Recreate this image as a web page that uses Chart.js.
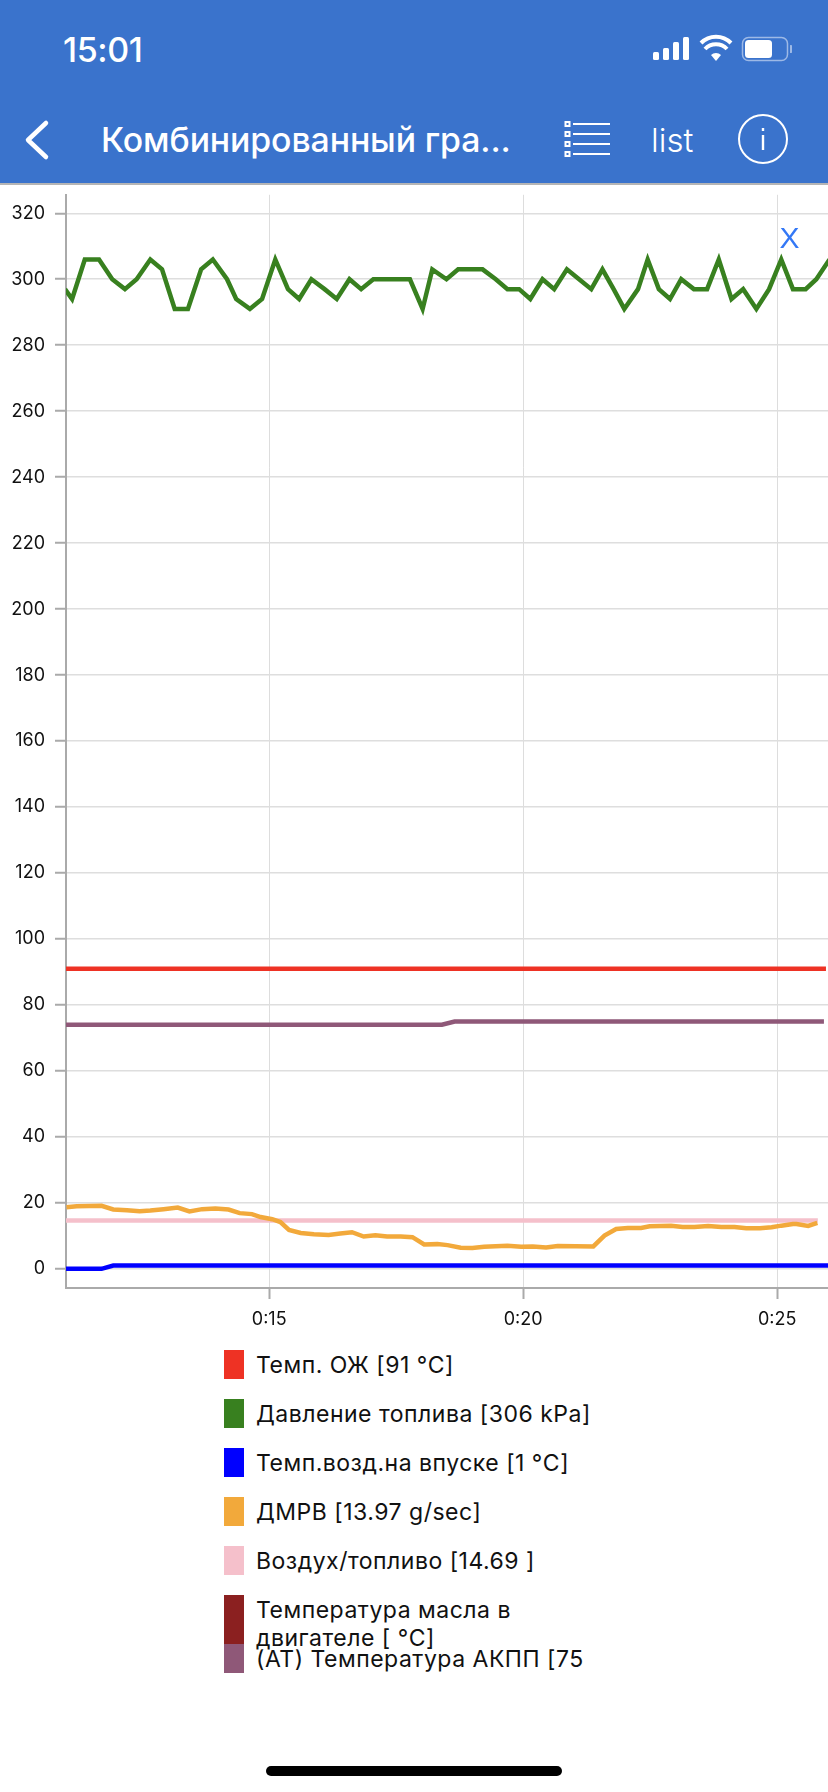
<!DOCTYPE html>
<html lang="ru">
<head>
<meta charset="utf-8">
<title>Комбинированный график</title>
<script src="https://cdn.jsdelivr.net/npm/chart.js@4/dist/chart.umd.js"></script>
<style>
  html, body { margin: 0; padding: 0; background: #fff; }
  body { width: 828px; height: 1792px; position: relative; overflow: hidden; font-family: Inter, "Liberation Sans", sans-serif; color: #111; }
  #header { position: absolute; left: 0; top: 0; width: 828px; height: 183px; background: #3a73cc; border-bottom: 2px solid #b5b5b5; color: #fff; }
  #header div, #header svg { position: absolute; }
  #time { left: 63px; top: 31px; font-size: 34px; font-weight: 500; line-height: 38px; letter-spacing: -0.4px; }
  #title { left: 101px; top: 120px; font-size: 33.8px; font-weight: 500; line-height: 40px; white-space: nowrap; letter-spacing: -0.1px; }
  #listText { left: 651px; top: 120px; font-size: 33px; font-weight: 300; line-height: 40px; }
  #chart { position: absolute; left: 0; top: 174px; }
  #legend { position: absolute; left: 224px; top: 1350px; width: 380px; }
  .row { display: flex; height: 49px; font-size: 23px; line-height: 28px; position: relative; }
  .swatch { width: 20px; height: 29px; flex: none; }
  .text { margin-left: 12px; width: 350px; height: 29px; overflow: hidden; padding-top: 1px; letter-spacing: 0.5px; }
  .row:nth-child(6) .swatch { height: 49px; }
  .row:nth-child(6) .text { height: auto; overflow: visible; }
  #homeBar { position: absolute; left: 266px; top: 1766px; width: 296px; height: 10px; border-radius: 5px; background: #000; }
</style>
</head>
<body>
<div id="header">
  <div id="time">15:01</div>
  <svg style="left:650px;top:34px" width="142" height="30" viewBox="0 0 142 30">
    <g fill="#fff">
      <rect x="3" y="18" width="6" height="8" rx="1.5"/>
      <rect x="13" y="14" width="6" height="12" rx="1.5"/>
      <rect x="23" y="8" width="6" height="18" rx="1.5"/>
      <rect x="33" y="3" width="6" height="23" rx="1.5"/>
      <path d="M66 27l-5-6a7 7 0 0 1 10 0z"/>
    </g>
    <g fill="none" stroke="#fff" stroke-width="4">
      <path d="M55 15a15 15 0 0 1 22 0"/>
      <path d="M51 9a21 21 0 0 1 30 0"/>
    </g>
    <rect x="92.5" y="3.5" width="45" height="23" rx="6" fill="none" stroke="#9db9e6" stroke-width="1.5"/>
    <rect x="95" y="6" width="27" height="18" rx="3.5" fill="#fff"/>
    <path d="M140 11a4 4 0 0 1 0 8z" fill="#9db9e6"/>
  </svg>
  <svg style="left:22px;top:118px" width="30" height="44" viewBox="0 0 30 44">
    <path d="M24 5L6 22l18 17" fill="none" stroke="#fff" stroke-width="4.5" stroke-linecap="round" stroke-linejoin="round"/>
  </svg>
  <div id="title">Комбинированный гра...</div>
  <svg style="left:562px;top:118px" width="52" height="42" viewBox="0 0 52 42" fill="none" stroke="#fff">
    <g stroke-width="2">
      <rect x="3.5" y="4" width="4" height="4"/><rect x="3.5" y="14" width="4" height="4"/>
      <rect x="3.5" y="24" width="4" height="4"/><rect x="3.5" y="34" width="4" height="4"/>
    </g>
    <g stroke-width="2">
      <path d="M11 6h37M11 16h37M11 26h37M11 36h37"/>
    </g>
  </svg>
  <div id="listText">list</div>
  <svg style="left:736px;top:112px" width="54" height="54" viewBox="0 0 54 54">
    <circle cx="27" cy="27" r="24" fill="none" stroke="#fff" stroke-width="2"/>
    <rect x="25.8" y="23" width="2.4" height="15" fill="#fff"/>
    <rect x="25.8" y="16" width="2.4" height="3" fill="#fff"/>
  </svg>
</div>

<canvas id="chart" width="828" height="1157"></canvas>
<div id="legend"></div>
<div id="homeBar"></div>

<script>
const seriesLabels = [
  "Темп. ОЖ [91 °C]",
  "Давление топлива [306 kPa]",
  "Темп.возд.на впуске [1 °C]",
  "ДМРВ [13.97 g/sec]",
  "Воздух/топливо [14.69 ]",
  "Температура масла в двигателе [ °C]",
  "(AT) Температура АКПП [75 °C]"
];
const seriesColors = ["#ee3224", "#38801f", "#0000ff", "#f2a93b", "#f5c0cb", "#8b2020", "#8f5878"];

const yTicks = [0, 20, 40, 60, 80, 100, 120, 140, 160, 180, 200, 220, 240, 260, 280, 300, 320];
const xTicks = [15, 20, 25];
const xTickLabels = ["0:15", "0:20", "0:25"];

// seconds / value pairs
const coolantTimes = [11, 25.96];
const coolantValues = [91, 91];

const fuelTimes = [10.98, 11.12, 11.37, 11.65, 11.91, 12.16, 12.39, 12.66, 12.89, 13.14, 13.40, 13.66, 13.89, 14.17, 14.35, 14.62, 14.86, 15.12, 15.37, 15.59, 15.83, 16.09, 16.33, 16.58, 16.81, 17.05, 17.29, 17.54, 17.77, 18.02, 18.21, 18.49, 18.72, 18.97, 19.20, 19.46, 19.69, 19.92, 20.14, 20.38, 20.61, 20.86, 21.10, 21.34, 21.56, 21.78, 21.99, 22.26, 22.45, 22.67, 22.89, 23.11, 23.36, 23.62, 23.85, 24.10, 24.33, 24.59, 24.84, 25.08, 25.31, 25.56, 25.77, 26.03];
const fuelValues = [297, 294, 306, 306, 300, 297, 300, 306, 303, 291, 291, 303, 306, 300, 294, 291, 294, 306, 297, 294, 300, 297, 294, 300, 297, 300, 300, 300, 300, 291, 303, 300, 303, 303, 303, 300, 297, 297, 294, 300, 297, 303, 300, 297, 303, 297, 291, 297, 306, 297, 294, 300, 297, 297, 306, 294, 297, 291, 297, 306, 297, 297, 300, 306];

const intakeTimes = [11, 11.7, 11.93, 26.1];
const intakeValues = [0, 0, 1, 1];

const mafTimes = [11.01, 11.21, 11.70, 11.93, 12.20, 12.45, 12.66, 12.92, 13.20, 13.43, 13.68, 13.94, 14.20, 14.42, 14.66, 14.83, 15.06, 15.22, 15.39, 15.62, 15.88, 16.17, 16.40, 16.63, 16.86, 17.09, 17.32, 17.59, 17.82, 18.05, 18.31, 18.51, 18.77, 19.00, 19.23, 19.69, 19.96, 20.19, 20.45, 20.68, 21.38, 21.60, 21.83, 22.06, 22.32, 22.49, 22.91, 23.14, 23.37, 23.64, 23.90, 24.16, 24.39, 24.66, 24.89, 25.08, 25.31, 25.38, 25.61, 25.79];
const mafValues = [18.7, 19, 19.1, 18, 17.8, 17.5, 17.7, 18.1, 18.6, 17.4, 18.1, 18.3, 18, 16.9, 16.6, 15.7, 15.05, 14.2, 11.8, 10.9, 10.5, 10.3, 10.7, 11.1, 9.8, 10.2, 9.8, 9.8, 9.6, 7.4, 7.5, 7.2, 6.4, 6.3, 6.7, 7, 6.7, 6.8, 6.5, 6.9, 6.8, 10.1, 12.1, 12.4, 12.4, 12.9, 13.1, 12.7, 12.7, 13, 12.7, 12.7, 12.3, 12.3, 12.6, 13.1, 13.6, 13.6, 13, 13.97];

const airFuelTimes = [11, 25.8];
const airFuelValues = [14.69, 14.69];

const oilTimes = [];
const oilValues = [];

const atTimes = [11, 18.4, 18.65, 25.92];
const atValues = [74, 74, 75, 75];

const cursorMark = { time: 25.24, value: 312, text: "X" };

const toPoints = (times, values) => times.map((t, i) => ({ x: t, y: values[i] }));

const allPoints = [
  toPoints(coolantTimes, coolantValues),
  toPoints(fuelTimes, fuelValues),
  toPoints(intakeTimes, intakeValues),
  toPoints(mafTimes, mafValues),
  toPoints(airFuelTimes, airFuelValues),
  toPoints(oilTimes, oilValues),
  toPoints(atTimes, atValues)
];

// Blue X above the curve at the cursor position
const cursorPlugin = {
  id: "cursorMark",
  afterDatasetsDraw(chart) {
    const { ctx, scales } = chart;
    ctx.save();
    ctx.font = '30px "Liberation Sans"';
    ctx.fillStyle = "#3478f6";
    ctx.textAlign = "center";
    ctx.textBaseline = "middle";
    ctx.fillText(cursorMark.text, scales.x.getPixelForValue(cursorMark.time), scales.y.getPixelForValue(cursorMark.value));
    ctx.restore();
  }
};

const tickFont = { family: "Inter", size: 18 };

new Chart(document.getElementById("chart").getContext("2d"), {
  type: "line",
  data: {
    datasets: seriesLabels.map((label, i) => ({
      label,
      data: allPoints[i],
      borderColor: seriesColors[i],
      backgroundColor: seriesColors[i],
      borderWidth: 4.5,
      borderJoinStyle: "miter",
      borderCapStyle: "butt",
      pointRadius: 0,
      tension: 0,
      fill: false
    }))
  },
  plugins: [cursorPlugin],
  options: {
    responsive: false,
    animation: false,
    devicePixelRatio: 1,
    plugins: { legend: { display: false }, tooltip: { enabled: false } },
    scales: {
      x: {
        type: "linear",
        min: 11,
        max: 26,
        afterBuildTicks: (scale) => { scale.ticks = xTicks.map(v => ({ value: v })); },
        afterFit: (scale) => { scale.height = 43; },
        border: { color: "#aaaaaa", width: 2 },
        grid: { color: "#dddddd", lineWidth: 1, tickColor: "#aaaaaa", tickLength: 11, tickWidth: 2 },
        ticks: {
          color: "#111111",
          font: tickFont,
          padding: 10,
          maxRotation: 0,
          autoSkip: false,
          callback: (value) => xTickLabels[xTicks.indexOf(value)]
        }
      },
      y: {
        type: "linear",
        min: -5.8,
        max: 325.6,
        afterBuildTicks: (scale) => { scale.ticks = yTicks.map(v => ({ value: v })); },
        afterFit: (scale) => { scale.width = 66; },
        border: { color: "#aaaaaa", width: 2 },
        grid: { color: "#dedede", lineWidth: 1.5, tickColor: "#aaaaaa", tickLength: 11, tickWidth: 2 },
        ticks: { color: "#111111", font: tickFont, padding: 10, autoSkip: false }
      }
    }
  }
});

// Legend below the chart
const legend = document.getElementById("legend");
seriesLabels.forEach((label, i) => {
  const row = document.createElement("div");
  row.className = "row";
  const swatch = document.createElement("div");
  swatch.className = "swatch";
  swatch.style.background = seriesColors[i];
  const text = document.createElement("div");
  text.className = "text";
  text.textContent = label;
  row.append(swatch, text);
  legend.append(row);
});
</script>
</body>
</html>
